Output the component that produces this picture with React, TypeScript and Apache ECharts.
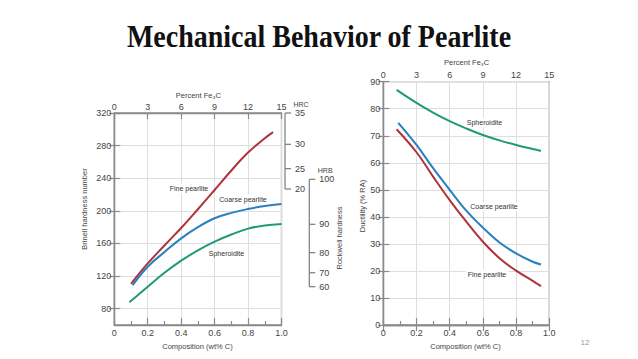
import React, { useEffect, useRef } from "react";
import * as echarts from "echarts";

// ---------- data ----------
const compositionTicks = [0, 0.2, 0.4, 0.6, 0.8, 1.0];
const fe3cTicks = [0, 3, 6, 9, 12, 15];
const brinellTicks = [80, 120, 160, 200, 240, 280, 320];
const ductilityTicks = [0, 10, 20, 30, 40, 50, 60, 70, 80, 90];

// Brinell hardness vs composition (wt% C)
const hardnessFine = [[0.1, 110.5], [0.2, 135.5], [0.3, 157.5], [0.4, 179], [0.5, 202], [0.6, 225.6], [0.7, 249.5], [0.8, 271.5], [0.9, 289], [0.95, 296.5]];
const hardnessCoarse = [[0.11, 109], [0.2, 131.5], [0.3, 149.5], [0.4, 166.3], [0.5, 180], [0.6, 190.9], [0.7, 197.5], [0.8, 202.3], [0.9, 206], [1.0, 208.4]];
const hardnessSpher = [[0.09, 87.8], [0.2, 107], [0.3, 124], [0.4, 138.9], [0.5, 151.5], [0.6, 162.2], [0.7, 171], [0.8, 178.2], [0.9, 182], [1.0, 183.9]];

// Ductility (%RA) vs composition
const ductSpher = [[0.08, 87], [0.2, 82.2], [0.3, 78.6], [0.4, 75.4], [0.5, 72.7], [0.6, 70.3], [0.7, 68.3], [0.8, 66.6], [0.9, 65.1], [0.95, 64.4]];
const ductCoarse = [[0.09, 74.8], [0.2, 66.6], [0.3, 58], [0.4, 50], [0.5, 42.3], [0.6, 36], [0.7, 30.5], [0.8, 26.5], [0.9, 23.4], [0.95, 22.4]];
const ductFine = [[0.08, 72.4], [0.2, 63.9], [0.3, 54.9], [0.4, 46.2], [0.5, 38.2], [0.6, 30.8], [0.7, 24.7], [0.8, 20.1], [0.9, 16.3], [0.95, 14.4]];

// Rockwell conversion scales (label, equivalent Brinell)
const hrcLabels = [35, 30, 25, 20];
const hrcBrinell = [320, 281.6, 251.7, 226.8];
const hrbLabels = [100, 90, 80, 70, 60];
const hrbBrinell = [238.7, 183.5, 148.7, 124.1, 107];

// ---------- styles ----------
const FONT = "'Liberation Sans', Arial, sans-serif";
const AXIS_COLOR = "#8a8a8a";
const LABEL_COLOR = "#444";
const GRID_COLOR = "#dedede";
const RED = "#b0323a";
const BLUE = "#2a7fbf";
const GREEN = "#1f9a78";

function xBottom(gridIndex: number) {
  return {
    type: "value", gridIndex, min: 0, max: 1, interval: 0.2, position: "bottom",
    axisLine: { show: true, lineStyle: { color: AXIS_COLOR, width: 1.3 } },
    axisTick: { show: true, inside: true, length: 7, lineStyle: { color: AXIS_COLOR, width: 1.2 } },
    minorTick: { show: true, splitNumber: 2, length: 4, lineStyle: { color: AXIS_COLOR, width: 1.2 } },
    axisLabel: { fontSize: 9, color: LABEL_COLOR, fontFamily: FONT, margin: 3, customValues: compositionTicks,
      formatter: (v: number) => (v === 0 ? "0" : v.toFixed(1)) },
    splitLine: { show: true, lineStyle: { color: GRID_COLOR, width: 1 } },
    minorSplitLine: { show: false },
  };
}
function xTop(gridIndex: number) {
  return {
    type: "value", gridIndex, min: 0, max: 15, interval: 3, position: "top",
    axisLine: { show: true, lineStyle: { color: AXIS_COLOR, width: 1.3 } },
    axisTick: { show: true, inside: true, length: 6, lineStyle: { color: AXIS_COLOR, width: 1.2 } },
    axisLabel: { fontSize: 9, color: LABEL_COLOR, fontFamily: FONT, margin: 2, customValues: fe3cTicks },
    splitLine: { show: false },
  };
}

function curve(name: string, data: number[][], color: string, xi: number, yi: number) {
  return {
    name, type: "line", data, xAxisIndex: xi, yAxisIndex: yi, smooth: 0.4,
    showSymbol: false, symbol: "none", lineStyle: { color, width: 2 }, silent: true,
  };
}

function rockwellScale(labels: number[], brinell: number[], offset: number, title: string) {
  return {
    type: "custom", xAxisIndex: 0, yAxisIndex: 0, clip: false, silent: true,
    data: brinell.map((b, i) => [1, b, labels[i]]),
    renderItem: (params: any, api: any) => {
      const i = params.dataIndex;
      const p = api.coord([api.value(0), api.value(1)]);
      const x0 = p[0] + offset;
      const y = p[1];
      const ls = { stroke: "#7a7a7a", lineWidth: 1.2 };
      const children: any[] = [
        { type: "line", shape: { x1: x0, y1: y, x2: x0 + 6, y2: y }, style: ls },
        { type: "text", x: x0 + 10, y, style: { text: String(api.value(2)), fill: LABEL_COLOR,
          font: `9px ${FONT}`, textAlign: "left", textVerticalAlign: "middle", align: "left", verticalAlign: "middle" } },
      ];
      if (i < brinell.length - 1) {
        const q = api.coord([1, brinell[i + 1]]);
        children.push({ type: "line", shape: { x1: x0, y1: y, x2: x0, y2: q[1] }, style: ls });
      }
      if (i === 0) {
        children.push({ type: "text", x: x0 + 8.5, y: y - 8.5, style: { text: title, fill: LABEL_COLOR,
          font: `7px ${FONT}`, textAlign: "left", textVerticalAlign: "middle", align: "left", verticalAlign: "middle" } });
      }
      return { type: "group", children };
    },
  };
}

function txt(text: string, x: number, y: number, opts: any = {}) {
  const style: any = {
    text, fill: opts.color || "#333",
    font: `${opts.weight || "normal"} ${opts.size || 7.5}px ${opts.family || FONT}`,
    textAlign: "center", textVerticalAlign: "middle", align: "center", verticalAlign: "middle",
  };
  if (opts.bg) {
    style.backgroundColor = "#ffffff";
    style.padding = [1, 2];
  }
  return {
    type: "text", x, y, rotation: opts.rotation || 0, silent: true, z: 50,
    scaleX: opts.scaleX || 1,
    style,
  };
}

export default function App() {
  const ref = useRef<HTMLDivElement>(null);
  useEffect(() => {
    if (!ref.current) return;
    const chart = echarts.init(ref.current, undefined, { renderer: "svg" });
    const gridBase = { show: true, borderColor: AXIS_COLOR, borderWidth: 1.3, backgroundColor: "transparent", containLabel: false, outerBoundsMode: "none" };
    const option: any = {
      animation: false,
      backgroundColor: "#ffffff",
      grid: [
        { ...gridBase, left: 114.3, top: 113, width: 167.2, height: 212 },
        { ...gridBase, left: 383.3, top: 81.7, width: 166, height: 243.3 },
      ],
      xAxis: [xBottom(0), xTop(0), xBottom(1), xTop(1)],
      yAxis: [
        {
          type: "value", gridIndex: 0, min: 60, max: 320, position: "left",
          axisLine: { show: true, lineStyle: { color: AXIS_COLOR, width: 1.3 } },
          axisTick: { show: true, inside: true, length: 6, customValues: brinellTicks, lineStyle: { color: AXIS_COLOR, width: 1.2 } },
          axisLabel: { fontSize: 9, color: LABEL_COLOR, fontFamily: FONT, margin: 3, customValues: brinellTicks },
          splitLine: { show: true, lineStyle: { color: GRID_COLOR, width: 1 } },
        },
        {
          type: "value", gridIndex: 0, min: 60, max: 320, position: "right",
          axisLine: { show: true, lineStyle: { color: AXIS_COLOR, width: 1.3 } },
          axisTick: { show: true, inside: true, length: 5, customValues: brinellTicks, lineStyle: { color: AXIS_COLOR, width: 1.2 } },
          axisLabel: { show: false },
          splitLine: { show: false },
        },
        {
          type: "value", gridIndex: 1, min: 0, max: 90, interval: 10, position: "left",
          axisLine: { show: true, lineStyle: { color: AXIS_COLOR, width: 1.3 } },
          axisTick: { show: true, inside: true, length: 6, lineStyle: { color: AXIS_COLOR, width: 1.2 } },
          axisLabel: { fontSize: 9, color: LABEL_COLOR, fontFamily: FONT, margin: 3, customValues: ductilityTicks },
          splitLine: { show: true, lineStyle: { color: GRID_COLOR, width: 1 } },
        },
        {
          type: "value", gridIndex: 1, min: 0, max: 90, interval: 10, position: "right",
          axisLine: { show: true, lineStyle: { color: AXIS_COLOR, width: 1.3 } },
          axisTick: { show: true, inside: true, length: 5, lineStyle: { color: AXIS_COLOR, width: 1.2 } },
          axisLabel: { show: false },
          splitLine: { show: false },
        },
      ],
      series: [
        curve("Fine pearlite", hardnessFine, RED, 0, 0),
        curve("Coarse pearlite", hardnessCoarse, BLUE, 0, 0),
        curve("Spheroidite", hardnessSpher, GREEN, 0, 0),
        curve("Spheroidite (RA)", ductSpher, GREEN, 2, 2),
        curve("Coarse pearlite (RA)", ductCoarse, BLUE, 2, 2),
        curve("Fine pearlite (RA)", ductFine, RED, 2, 2),
        rockwellScale(hrcLabels, hrcBrinell, 3.5, "HRC"),
        rockwellScale(hrbLabels, hrbBrinell, 27.8, "HRB"),
      ],
      graphic: [
        txt("Mechanical Behavior of Pearlite", 319, 36, { size: 32, weight: "bold", family: "'Liberation Serif', 'DejaVu Serif', serif", color: "#111", scaleX: 0.875 }),
        txt("Percent Fe\u2083C", 198.3, 95, { color: "#444" }),
        txt("Composition (wt% C)", 197.5, 346, { color: "#444" }),
        txt("Brinell hardness number", 84.7, 209, { rotation: Math.PI / 2, color: "#444" }),
        txt("Rockwell hardness", 339, 238, { rotation: Math.PI / 2, color: "#444" }),
        txt("Percent Fe\u2083C", 466.7, 62.3, { color: "#444" }),
        txt("Composition (wt% C)", 465.5, 346, { color: "#444" }),
        txt("Ductility (% RA)", 362.7, 206, { rotation: Math.PI / 2, color: "#444" }),
        txt("Fine pearlite", 189, 188.5, { size: 7, color: "#333", bg: true }),
        txt("Coarse pearlite", 243, 199, { size: 7, color: "#333", bg: true }),
        txt("Spheroidite", 226.5, 253, { size: 7, color: "#333", bg: true }),
        txt("Spheroidite", 484.5, 122.3, { size: 7, color: "#333", bg: true }),
        txt("Coarse pearlite", 494, 206.7, { size: 7, color: "#333", bg: true }),
        txt("Fine pearlite", 487, 274, { size: 7, color: "#333", bg: true }),
        txt("12", 585, 342, { size: 8, color: "#9a9a9a" }),
      ],
    };
    chart.setOption(option);
    return () => chart.dispose();
  }, []);
  return <div ref={ref} style={{ position: "fixed", left: 0, top: 0, width: 638, height: 359 }} />;
}
